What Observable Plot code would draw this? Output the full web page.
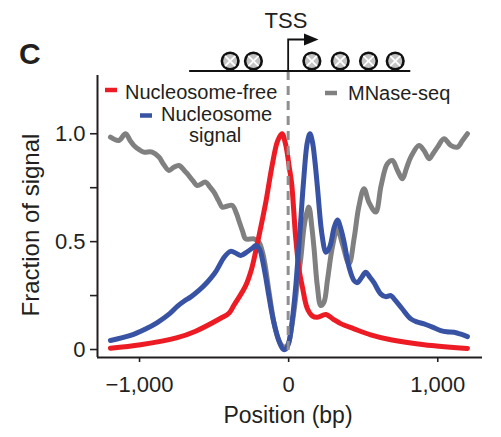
<!DOCTYPE html>
<html>
<head>
<meta charset="utf-8">
<script src="https://cdn.jsdelivr.net/npm/d3@7"></script>
<script src="https://cdn.jsdelivr.net/npm/@observablehq/plot@0.6"></script>
<style>
  html, body { margin: 0; padding: 0; background: #fff; }
  svg text { font-family: "Liberation Sans", Arial, Helvetica, sans-serif; }
</style>
</head>
<body>
<div id="chart"></div>
<script>
// ---- Data ----
// Nucleosome-free (red)
const freePos = [-1195, -993, -747, -624, -456, -401, -367, -289, -250, -221, -177, -154, -109, -75, -45, -20, 5, 20, 47, 70, 92, 125, 160, 193, 250, 300, 349, 438, 550, 685, 908, 1199];
const freeVal = [0.006, 0.022, 0.055, 0.085, 0.145, 0.168, 0.205, 0.295, 0.37, 0.455, 0.60, 0.68, 0.86, 0.965, 1.0, 0.95, 0.84, 0.77, 0.52, 0.37, 0.29, 0.19, 0.155, 0.150, 0.162, 0.140, 0.120, 0.096, 0.068, 0.045, 0.022, 0.005];
// Nucleosome signal (blue)
const nucPos = [-1195, -1060, -960, -881, -800, -747, -700, -658, -600, -546, -500, -479, -430, -389, -350, -322, -280, -240, -221, -195, -177, -150, -132, -110, -87, -60, -35, -15, 0, 13, 30, 47, 62, 81, 100, 125, 143, 160, 175, 193, 215, 226, 248, 265, 282, 305, 327, 350, 371, 405, 438, 460, 490, 517, 545, 572, 617, 650, 685, 707, 760, 819, 860, 908, 960, 1020, 1060, 1109, 1150, 1199];
const nucVal = [0.042, 0.065, 0.095, 0.125, 0.165, 0.200, 0.225, 0.243, 0.275, 0.312, 0.350, 0.372, 0.43, 0.455, 0.445, 0.436, 0.452, 0.472, 0.482, 0.465, 0.42, 0.32, 0.245, 0.16, 0.09, 0.03, 0.0, 0.005, 0.03, 0.075, 0.17, 0.289, 0.42, 0.598, 0.78, 0.96, 1.0, 0.96, 0.88, 0.752, 0.58, 0.521, 0.451, 0.46, 0.49, 0.565, 0.60, 0.56, 0.50, 0.382, 0.32, 0.31, 0.335, 0.358, 0.335, 0.31, 0.258, 0.245, 0.25, 0.235, 0.19, 0.142, 0.128, 0.119, 0.105, 0.088, 0.082, 0.080, 0.072, 0.060];
// MNase-seq (gray)
const mnasePos = [-1195, -1139, -1094, -1060, -1038, -1000, -971, -915, -870, -840, -803, -770, -736, -700, -680, -640, -613, -557, -530, -501, -470, -445, -410, -378, -350, -334, -310, -289, -260, -233, -199, -175, -160, -130, -100, -70, -45, -20, 0, 13, 40, 60, 81, 103, 120, 136, 155, 170, 193, 215, 237, 260, 293, 327, 360, 405, 440, 470, 505, 540, 584, 620, 662, 696, 730, 763, 790, 819, 874, 910, 942, 970, 998, 1042, 1087, 1132, 1166, 1199];
const mnaseVal = [0.984, 0.969, 1.0, 0.965, 0.946, 0.925, 0.915, 0.915, 0.892, 0.86, 0.830, 0.845, 0.853, 0.83, 0.815, 0.78, 0.760, 0.776, 0.755, 0.729, 0.69, 0.660, 0.665, 0.668, 0.63, 0.598, 0.55, 0.513, 0.512, 0.513, 0.497, 0.45, 0.40, 0.26, 0.13, 0.05, 0.018, 0.011, 0.03, 0.073, 0.2, 0.32, 0.42, 0.567, 0.63, 0.66, 0.57, 0.47, 0.29, 0.204, 0.22, 0.32, 0.474, 0.56, 0.49, 0.397, 0.52, 0.66, 0.745, 0.68, 0.637, 0.76, 0.861, 0.876, 0.83, 0.791, 0.84, 0.892, 0.946, 0.92, 0.884, 0.91, 0.938, 0.977, 0.946, 0.938, 0.969, 1.0];

// Nucleosome positions in the schematic (bp)
const nucleosomes = [-389, -233, 159, 349, 539, 718];
const dnaExtent = [-664, 819];

const xTicks = [-1000, 0, 1000];
const yTicks = [0, 0.25, 0.5, 0.75, 1];
const yLabels = new Map([[0, "0"], [0.5, "0.5"], [1, "1.0"]]);

const seriesNames = ["Nucleosome-free", "Nucleosome", "MNase-seq"];
const colors = {free: "#ed1c24", nuc: "#3953a4", mnase: "#808080"};

const toRows = (pos, val) => pos.map((p, i) => ({x: p, y: val[i]}));
const free = toRows(freePos, freeVal);
const nuc = toRows(nucPos, nucVal);
const mnase = toRows(mnasePos, mnaseVal);

const xDom = [-1282, 1300];
const yDom = [-0.037, 1.27];
const ink = "#231f20";

const plot = Plot.plot({
  width: 501,
  height: 437,
  marginLeft: 97,
  marginRight: 19,
  marginTop: 75,
  marginBottom: 80,
  style: {fontFamily: '"Liberation Sans", Arial, sans-serif', fontSize: "22px", color: ink, background: "#fff", overflow: "visible"},
  x: {domain: xDom},
  y: {domain: yDom},
  marks: [
    Plot.axisX({ticks: xTicks, tickSize: 5, tickPadding: 14, tickFormat: d3.format(","), label: null, fontSize: 22, strokeWidth: 1.6, stroke: ink, fill: ink}),
    Plot.axisY({ticks: yTicks, tickSize: 7, tickPadding: 5, tickFormat: d => yLabels.get(d) ?? "", label: null, fontSize: 22, strokeWidth: 1.6, stroke: ink, fill: ink}),
    Plot.ruleX([xDom[0]], {y1: yDom[0], y2: yDom[1], stroke: ink, strokeWidth: 2}),
    Plot.ruleY([yDom[0]], {x1: xDom[0], x2: xDom[1], stroke: ink, strokeWidth: 2}),
    Plot.line(mnase, {x: "x", y: "y", stroke: colors.mnase, strokeWidth: 5, curve: "catmull-rom", strokeLinecap: "round", strokeLinejoin: "round"}),
    Plot.line(free, {x: "x", y: "y", stroke: colors.free, strokeWidth: 5, curve: "catmull-rom", strokeLinecap: "round", strokeLinejoin: "round"}),
    Plot.line(nuc, {x: "x", y: "y", stroke: colors.nuc, strokeWidth: 5, curve: "catmull-rom", strokeLinecap: "round", strokeLinejoin: "round"})
  ]
});

document.getElementById("chart").appendChild(plot);

// ---- Annotations (schematic, legend, titles) ----
const svg = d3.select(plot);
const sx = plot.scale("x");
const X = v => sx.apply(v);
const dnaY = 71;
const g = svg.append("g").attr("text-anchor", "start");

// dashed TSS line
g.append("line")
  .attr("x1", X(0)).attr("x2", X(0))
  .attr("y1", dnaY).attr("y2", 357)
  .attr("stroke", "#8f8f8f").attr("stroke-width", 3).attr("stroke-dasharray", "9,6");

// DNA line
g.append("line")
  .attr("x1", X(dnaExtent[0])).attr("x2", X(dnaExtent[1]))
  .attr("y1", dnaY).attr("y2", dnaY)
  .attr("stroke", "#111").attr("stroke-width", 2);

// TSS arrow
g.append("path")
  .attr("d", `M${X(0)},${dnaY} V39.5 H306`)
  .attr("fill", "none").attr("stroke", "#111").attr("stroke-width", 1.8);
g.append("path")
  .attr("d", `M304,33.5 L318.5,39.5 L304,45.5 Z`)
  .attr("fill", "#111");

// nucleosomes
const cy = 61, r = 8.3;
nucleosomes.forEach(p => {
  const cx = X(p);
  const n = g.append("g");
  n.append("circle").attr("cx", cx).attr("cy", cy).attr("r", r)
    .attr("fill", "#c4c4c4").attr("stroke", "#111").attr("stroke-width", 2.6);
  const d = r * 0.62;
  n.append("line").attr("x1", cx - d).attr("y1", cy - d).attr("x2", cx + d).attr("y2", cy + d)
    .attr("stroke", "#fff").attr("stroke-width", 1.8);
  n.append("line").attr("x1", cx - d).attr("y1", cy + d).attr("x2", cx + d).attr("y2", cy - d)
    .attr("stroke", "#fff").attr("stroke-width", 1.8);
});

// TSS label
g.append("text").attr("x", 286).attr("y", 28).attr("text-anchor", "middle")
  .attr("font-size", 22).attr("fill", ink).text("TSS");

// panel letter
g.append("text").attr("x", 19).attr("y", 64).attr("text-anchor", "start")
  .attr("font-size", 30).attr("font-weight", "bold").attr("fill", ink).text("C");

// legend
const leg = [
  {x1: 105, x2: 117, y: 90, color: colors.free, tx: 125, ty: 98.5, label: seriesNames[0]},
  {x1: 140, x2: 152, y: 115.5, color: colors.nuc, tx: 161, ty: 121, label: seriesNames[1]},
  {x1: 325, x2: 337, y: 93, color: colors.mnase, tx: 348, ty: 100, label: seriesNames[2]}
];
leg.forEach(l => {
  g.append("line").attr("x1", l.x1).attr("x2", l.x2).attr("y1", l.y).attr("y2", l.y)
    .attr("stroke", l.color).attr("stroke-width", 4.5);
  g.append("text").attr("x", l.tx).attr("y", l.ty).attr("text-anchor", "start")
    .attr("font-size", 20).attr("fill", ink).text(l.label);
});
g.append("text").attr("x", 189).attr("y", 142).attr("text-anchor", "start")
  .attr("font-size", 20).attr("fill", ink).text("signal");

// axis titles
g.append("text").attr("x", 288).attr("y", 423).attr("text-anchor", "middle")
  .attr("font-size", 23).attr("fill", ink).text("Position (bp)");
g.append("text").attr("transform", "translate(38.5,225) rotate(-90)").attr("text-anchor", "middle")
  .attr("font-size", 24).attr("fill", ink).text("Fraction of signal");
</script>
</body>
</html>
